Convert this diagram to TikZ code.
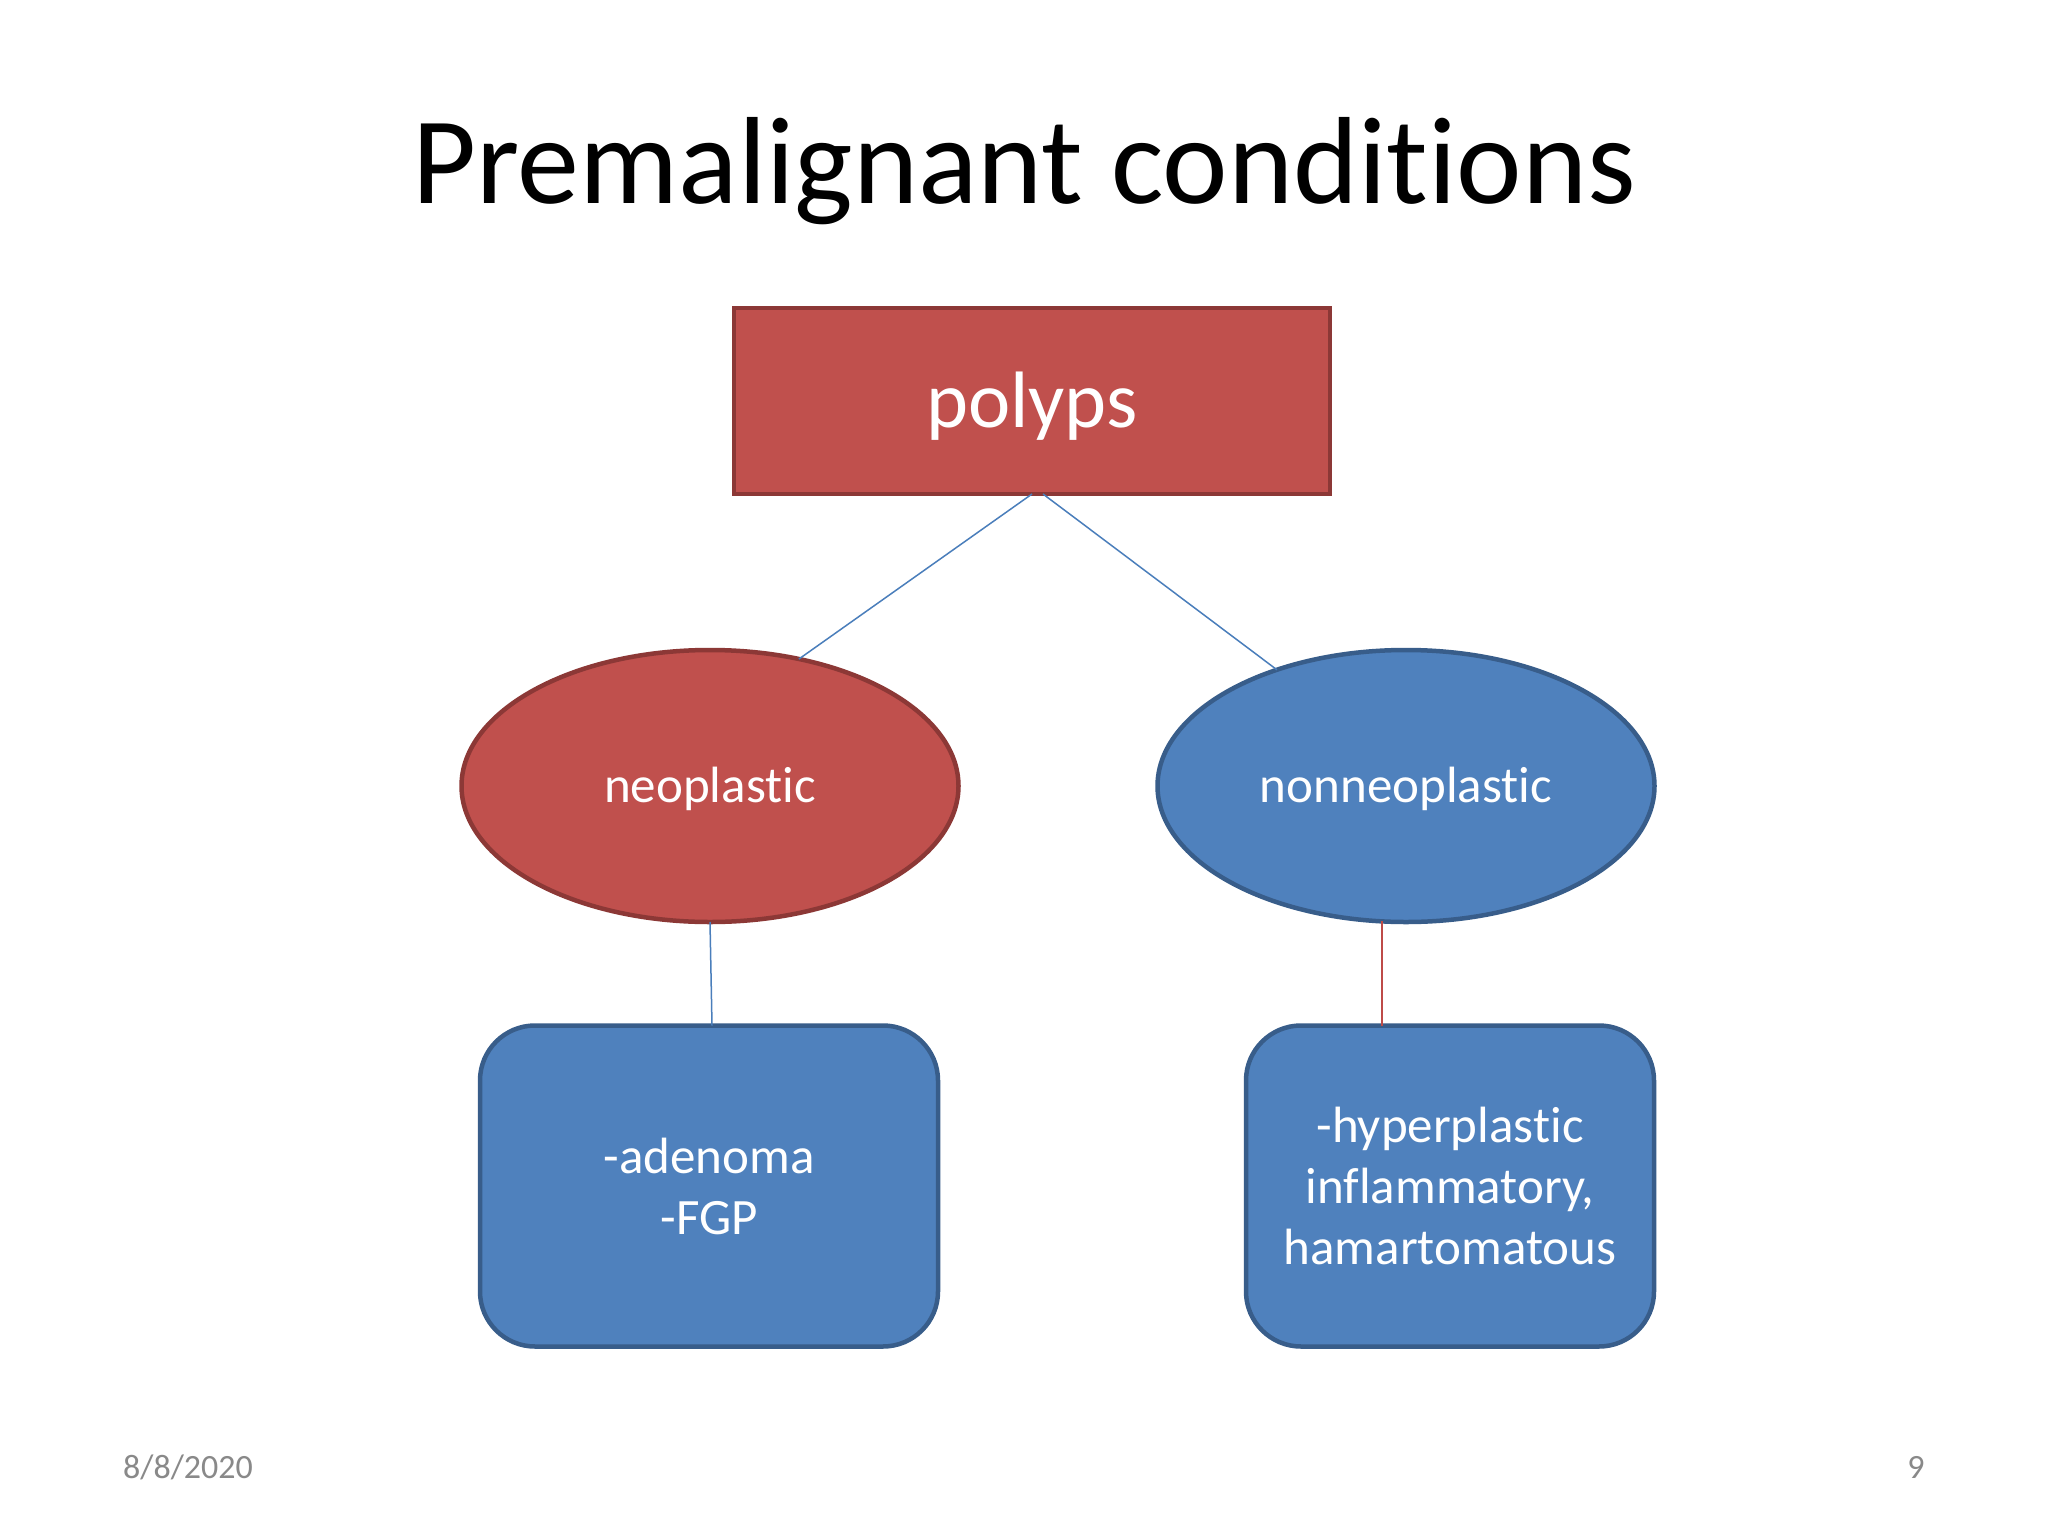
\documentclass[tikz,border=0pt]{standalone}
\usepackage{fontspec}
\setmainfont{Carlito}[Ligatures={NoCommon}]
\usetikzlibrary{shapes.geometric,calc}
\definecolor{redfill}{HTML}{C0504D}
\definecolor{rededge}{HTML}{8C3836}
\definecolor{bluefill}{HTML}{4F81BD}
\definecolor{blueedge}{HTML}{385D8A}
\definecolor{conblue}{HTML}{4A7EBB}
\definecolor{conred}{HTML}{BE4B48}
\definecolor{footgray}{HTML}{898989}
\begin{document}
\begin{tikzpicture}[x=1pt,y=-1pt,
  every node/.style={inner sep=0pt,outer sep=0pt},
  topbox/.style={rectangle,draw=rededge,fill=redfill,line width=4.5pt,
    minimum width=596pt,minimum height=186pt,text=white,
    font=\fontsize{80}{98}\selectfont,text height=68pt,text depth=16pt},
  ovalred/.style={ellipse,draw=rededge,fill=redfill,line width=4.5pt,
    minimum width=497pt,minimum height=272pt,text=white,
    font=\fontsize{51}{62}\selectfont,text height=43pt,text depth=10pt},
  ovalblue/.style={ellipse,draw=blueedge,fill=bluefill,line width=4.5pt,
    minimum width=497pt,minimum height=272pt,text=white,
    font=\fontsize{51}{62}\selectfont,text height=43pt,text depth=10pt},
  leafbox/.style={rectangle,rounded corners=55pt,draw=blueedge,fill=bluefill,
    line width=4.5pt,minimum height=321pt,text=white,align=center,
    font=\fontsize{51}{61}\selectfont},
  conn/.style={draw=conblue,line width=1.5pt},
  connred/.style={draw=conred,line width=1.5pt},
  foot/.style={anchor=base,text=footgray,font=\fontsize{34}{40}\selectfont}
]
\fill[white] (0,0) rectangle (2048,1536);
\useasboundingbox (0,0) rectangle (2048,1536);

\node[anchor=base,font=\fontsize{124}{150}\selectfont] (title) at (1024,203) {Premalignant conditions};

\node[topbox] (polyps) at (1032,401) {polyps};
\node[ovalred] (neo) at (710,786) {neoplastic};
\node[ovalblue] (nonneo) at (1406,786) {nonneoplastic};
\node[leafbox,minimum width=458pt] (aden) at (709,1186) {-adenoma\\-FGP};
\node[leafbox,minimum width=408pt] (hyper) at (1450,1186) {-hyperplastic\\inflammatory,\\hamartomatous};

\draw[conn] (polyps.south) -- (neo.55);
\draw[conn] ($(polyps.south)+(11,0)$) -- (nonneo.138);
\draw[conn] (neo.south) -- ($(aden.north)+(3,0)$);
\draw[connred] (nonneo.260) -- (nonneo.260 |- hyper.north);

\node[foot] (date) at (188,1478) {8/8/2020};
\node[foot] (page) at (1916,1478) {9};
\end{tikzpicture}
\end{document}
